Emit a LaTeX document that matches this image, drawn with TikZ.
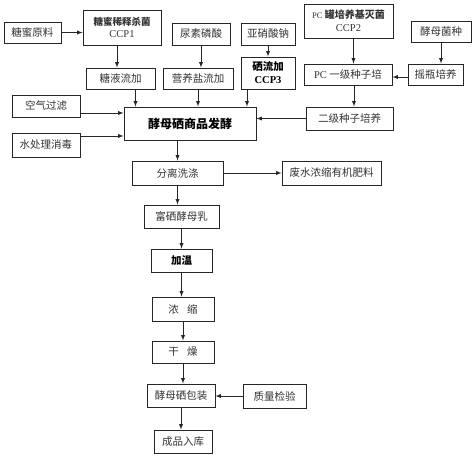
\documentclass[tikz,border=0pt]{standalone}
\usepackage{fontspec}
\setmainfont{Liberation Serif}
\newfontfamily\cjk{Noto Sans CJK SC}
\newcommand\en[1]{{\rmfamily #1}}

\begin{document}
\begin{tikzpicture}[x=1pt,y=-1pt,>=latex,
  flow/.style={->,line width=0.9pt,draw=black!85},
  box/.style={draw=black!85,line width=0.9pt,inner sep=0pt,align=center,
    text=black!80,font=\cjk\fontsize{10.5}{13}\selectfont},
  hd/.style={font=\cjk\bfseries\fontsize{10.5}{13}\selectfont,text=black}]
\useasboundingbox (0,0) rectangle (474,458);
\node[box,minimum width=57,minimum height=21] (raw) at (32.5,32.5) {糖蜜原料};
\node[box,minimum width=78,minimum height=35,font=\cjk\fontsize{9.5}{12}\selectfont] (ccp1) at (122,27.5) {{\bfseries 糖蜜稀释杀菌}\\\en{\fontsize{10.5}{12}\selectfont CCP1}};
\node[box,minimum width=58,minimum height=22] (urea) at (201,34) {尿素磷酸};
\node[box,minimum width=54,minimum height=22] (nitrite) at (268,34) {亚硝酸钠};
\node[box,minimum width=89,minimum height=34,font=\cjk\fontsize{10}{13}\selectfont] (ccp2) at (348.5,21) {{\fontsize{8.5}{10}\selectfont\en{PC}} {\bfseries 罐培养基灭菌}\\\en{\fontsize{10.5}{12}\selectfont CCP2}};
\node[box,minimum width=60,minimum height=21] (strain) at (441,31.5) {酵母菌种};
\node[box,minimum width=69,minimum height=21] (sugar) at (120.5,78.5) {糖液流加};
\node[box,minimum width=70,minimum height=21] (salt) at (198,78.5) {营养盐流加};
\node[box,hd,minimum width=54,minimum height=32] (ccp3) at (268,73) {硒流加\\\en{CCP3}};
\node[box,minimum width=88,minimum height=21] (seed1) at (348,74.5) {\en{PC} 一级种子培};
\node[box,minimum width=55,minimum height=21] (shake) at (435.5,74.5) {摇瓶培养};
\node[box,minimum width=68,minimum height=22] (air) at (46,106) {空气过滤};
\node[box,hd,minimum width=132,minimum height=33,font=\cjk\bfseries\fontsize{12}{14}\selectfont] (ferm) at (190,123.5) {酵母硒商品发酵};
\node[box,minimum width=68,minimum height=24] (water) at (46,145) {水处理消毒};
\node[box,minimum width=87,minimum height=23] (seed2) at (349.5,118.5) {二级种子培养};
\node[box,minimum width=91,minimum height=24] (sep) at (177.5,173) {分离洗涤};
\node[box,minimum width=99,minimum height=24] (waste) at (331.5,173) {废水浓缩有机肥料};
\node[box,minimum width=75,minimum height=23] (milk) at (181.5,216.5) {富硒酵母乳};
\node[box,hd,minimum width=61,minimum height=23] (heat) at (181.5,260.5) {加温};
\node[box,minimum width=62,minimum height=24] (conc) at (183,309) {浓\hspace{0.8em}缩};
\node[box,minimum width=62,minimum height=22] (dry) at (183,352) {干\hspace{0.8em}燥};
\node[box,minimum width=68,minimum height=23] (pack) at (181,395.5) {酵母硒包装};
\node[box,minimum width=63,minimum height=24] (qc) at (274.5,396) {质量检验};
\node[box,minimum width=58,minimum height=23] (store) at (183,441.5) {成品入库};
\draw[flow] (raw) -- (raw -| ccp1.west);
\draw[flow] ([xshift=-5pt]ccp1.south) -- ([xshift=-5pt]ccp1.south |- sugar.north);
\draw[flow] (urea) -- (urea |- salt.north);
\draw[flow] (nitrite) -- (nitrite |- ccp3.north);
\draw[flow] ([xshift=15pt]sugar.south) -- ([xshift=15pt]sugar.south |- ferm.north);
\draw[flow] (salt) -- (salt |- ferm.north);
\draw[flow] ([xshift=-21pt]ccp3.south) -- ([xshift=-21pt]ccp3.south |- ferm.north);
\draw[flow] ([xshift=5pt]ccp2.south) -- ([xshift=5pt]ccp2.south |- seed1.north);
\draw[flow] (strain) -- (strain |- shake.north);
\draw[flow] ([yshift=-2.5pt]shake.west) -- ([yshift=-2.5pt]shake.west -| seed1.east);
\draw[flow] ([xshift=6pt]seed1.south) -- ([xshift=6pt]seed1.south |- seed2.north);
\draw[flow] (seed2) -- (seed2 -| ferm.east);
\draw[flow] ([yshift=-7pt]air.east) -- ([yshift=-7pt]air.east -| ferm.west);
\draw[flow] ([yshift=9pt]water.east) -- ([yshift=9pt]water.east -| ferm.west);
\draw[flow] (ferm.south -| sep) -- (sep);
\draw[flow] (sep) -- (waste);
\draw[flow] (qc) -- (qc -| pack.east);
\foreach \Up/\Dn in {sep/milk,milk/heat,heat/conc,conc/dry,dry/pack,pack/store}
 \draw[flow] (\Up) -- (\Up |- \Dn.north);
\end{tikzpicture}
\end{document}
